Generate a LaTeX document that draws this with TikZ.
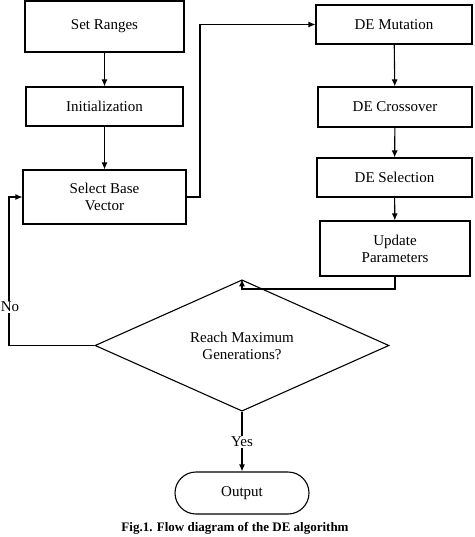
\documentclass[tikz,border=0pt]{standalone}
\usepackage{fontspec}
\setmainfont{Liberation Serif}
\usetikzlibrary{shapes.geometric,shapes.misc,arrows.meta}
\begin{document}
\begin{tikzpicture}[x=1pt,y=-1pt,
  every node/.style={font=\fontsize{15}{17}\selectfont},
  box/.style={draw, line width=1.1pt, inner sep=0pt, align=center},
  conn/.style={line width=1.1pt},
  arr/.style={conn, -{Latex[length=7pt,width=6pt]}},
  lbl/.style={fill=white, inner sep=1pt}]
\useasboundingbox (0,0) rectangle (474,537);
\node[box, minimum width=159pt, minimum height=51pt] (sr) at (104.5,26.5) {Set Ranges};
\node[box, minimum width=157pt, minimum height=39pt] (init) at (104.5,106.5) {Initialization};
\node[box, minimum width=163pt, minimum height=54pt] (sbv) at (104.5,197) {Select Base\\Vector};
\node[box, minimum width=156pt, minimum height=39pt] (mut) at (394,24.5) {DE Mutation};
\node[box, minimum width=154pt, minimum height=40pt] (cross) at (395,107) {DE Crossover};
\node[box, minimum width=155pt, minimum height=39pt] (sel) at (394.5,177.5) {DE Selection};
\node[box, minimum width=150pt, minimum height=55pt] (upd) at (395,248.5) {Update\\Parameters};
\node[box, diamond, minimum width=294pt, minimum height=91pt] (dia) at (242,345.5) {Reach Maximum\\Generations?};
\node[box, rounded rectangle, minimum width=134pt, minimum height=42pt] (out) at (242,493) {Output};
\coordinate (jr) at (200,197);
\coordinate (jm) at (242,289);
\coordinate (jl) at (9,345.5);
\draw[arr] (sr) -- (init);
\draw[arr] (init) -- (sbv);
\draw[arr] (sbv.east) -- (jr) |- (mut.west);
\draw[arr] (mut) -- (cross);
\draw[arr] (cross) -- (sel);
\draw[arr] (sel) -- (upd);
\draw[arr] (upd.south) |- (jm) -- (dia.north);
\draw[arr] (dia.west) -- (jl) |- (sbv.west);
\node[lbl] (no) at (10,307) {No};
\draw[arr] (dia.south) -- node[lbl] (yes) {Yes} (out.north);
\node[font=\fontsize{13}{15}\selectfont\bfseries, inner sep=0pt] (cap) at (235,528) {Fig.1. Flow diagram of the DE algorithm};
\end{tikzpicture}
\end{document}
